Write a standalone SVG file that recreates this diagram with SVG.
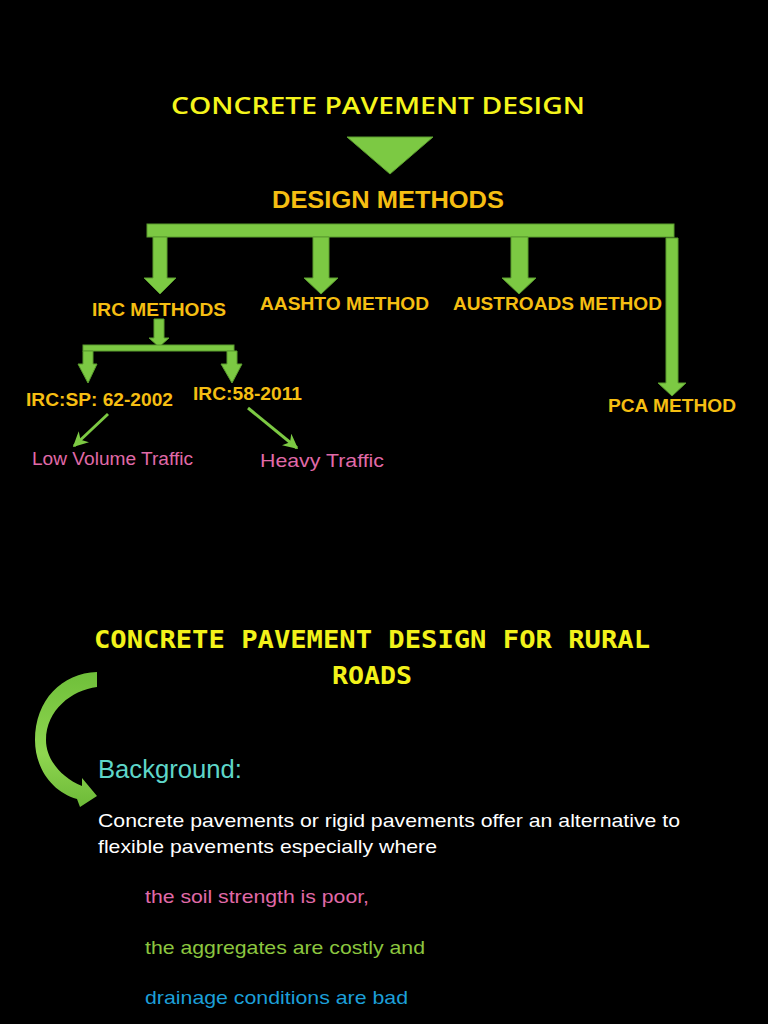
<svg xmlns="http://www.w3.org/2000/svg" width="768" height="1024" viewBox="0 0 768 1024">
<defs>
<style>
.bg{fill:#000}
.blk{fill:#7cc943;stroke:#5a9c2e;stroke-width:1}
.thin{stroke:#7cc943;stroke-width:3;fill:none}
.lbl{font-family:"Liberation Sans",Arial,sans-serif;font-weight:bold;fill:#f5be12}
.pink{font-family:"Liberation Sans",Arial,sans-serif;fill:#e06aa8}
.body{font-family:"Liberation Sans",Arial,sans-serif;font-size:19px}
.mono{font-family:"DejaVu Sans Mono","Liberation Mono",monospace;font-weight:bold;font-size:24px;fill:#f2f21a}
</style>
<marker id="ah" viewBox="0 0 10 10" refX="9" refY="5" markerWidth="5" markerHeight="5" orient="auto" markerUnits="strokeWidth">
<path d="M0,0 L10,5 L0,10 L3,5 Z" fill="#7cc943"/>
</marker>
<linearGradient id="cg" x1="0" y1="0" x2="0" y2="1">
<stop offset="0" stop-color="#6fbf3a"/>
<stop offset="0.6" stop-color="#8fd650"/>
<stop offset="1" stop-color="#6dba38"/>
</linearGradient>
</defs>
<rect class="bg" x="0" y="0" width="768" height="1024"/>

<g id="title">
<text x="171" y="114" font-family="'Open Sans','Liberation Sans',sans-serif" font-weight="600" font-size="24" fill="#f5f51c" textLength="414" lengthAdjust="spacingAndGlyphs">CONCRETE PAVEMENT DESIGN</text>
</g>
<g id="design-methods">
<text class="lbl" x="272" y="208" font-size="23" textLength="232" lengthAdjust="spacingAndGlyphs">DESIGN METHODS</text>
</g>
<g id="irc-methods"><text class="lbl" x="92" y="316" font-size="19" textLength="134" lengthAdjust="spacingAndGlyphs">IRC METHODS</text></g>
<g id="aashto"><text class="lbl" x="260" y="310" font-size="19" textLength="169" lengthAdjust="spacingAndGlyphs">AASHTO METHOD</text></g>
<g id="austroads"><text class="lbl" x="453" y="310" font-size="19" textLength="209" lengthAdjust="spacingAndGlyphs">AUSTROADS METHOD</text></g>
<g id="pca"><text class="lbl" x="608" y="412" font-size="19" textLength="128" lengthAdjust="spacingAndGlyphs">PCA METHOD</text></g>
<g id="irc-sp"><text class="lbl" x="26" y="406" font-size="19" textLength="147" lengthAdjust="spacingAndGlyphs">IRC:SP: 62-2002</text></g>
<g id="irc-58"><text class="lbl" x="193" y="400" font-size="19" textLength="109" lengthAdjust="spacingAndGlyphs">IRC:58-2011</text></g>
<g id="low-volume"><text class="pink" x="32" y="465" font-size="18" textLength="161" lengthAdjust="spacingAndGlyphs">Low Volume Traffic</text></g>
<g id="heavy"><text class="pink" x="260" y="467" font-size="19" textLength="124" lengthAdjust="spacingAndGlyphs">Heavy Traffic</text></g>

<g id="connectors">
<polygon class="blk" points="347,137 433,137 390,174"/>
<rect class="blk" x="147" y="224" width="527" height="13"/>
<polygon class="blk" points="153,237 167,237 167,278 176,278 160,294 144,278 153,278"/>
<polygon class="blk" points="313,237 329,237 329,278 338,278 321,294 304,278 313,278"/>
<polygon class="blk" points="511,237 528,237 528,278 536,278 519,294 502,278 511,278"/>
<polygon class="blk" points="666,238 678,238 678,383 686,383 672,396 658,383 666,383"/>
<polygon class="blk" points="154,319 164,319 164,338 169,338 159,347 149,338 154,338"/>
<rect class="blk" x="83" y="345" width="151" height="6"/>
<polygon class="blk" points="83,351 93,351 93,364 97,364 88,383 78,364 83,364"/>
<polygon class="blk" points="227,351 237,351 237,364 242,364 232,383 221,364 227,364"/>
<line class="thin" x1="108" y1="414" x2="74" y2="446" marker-end="url(#ah)"/>
<line class="thin" x1="248" y1="408" x2="297" y2="448" marker-end="url(#ah)"/>
<path fill="url(#cg)" d="M97,672 L97,687 C72,690 46,710 46,740 C46,760 62,778 82,786 L82,778 L97,796 L80,807 L77,799 C52,792 35,768 35,740 C35,700 62,673 97,672 Z"/>
</g>

<g id="rural-title">
<text class="mono" x="94" y="648" textLength="556" lengthAdjust="spacingAndGlyphs">CONCRETE PAVEMENT DESIGN FOR RURAL</text>
<text class="mono" x="332" y="684" textLength="80" lengthAdjust="spacingAndGlyphs">ROADS</text>
</g>
<g id="background">
<text x="98" y="778" font-family="'Liberation Sans',Arial,sans-serif" font-size="26" fill="#5ed6c9" textLength="144" lengthAdjust="spacingAndGlyphs">Background:</text>
<text class="body" x="98" y="827" fill="#ffffff" textLength="582" lengthAdjust="spacingAndGlyphs">Concrete pavements or rigid pavements offer an alternative to</text>
<text class="body" x="98" y="853" fill="#ffffff" textLength="339" lengthAdjust="spacingAndGlyphs">flexible pavements especially where</text>
<text class="body" x="145" y="903" fill="#e06aa8" textLength="224" lengthAdjust="spacingAndGlyphs">the soil strength is poor,</text>
<text class="body" x="145" y="954" fill="#8cc63f" textLength="280" lengthAdjust="spacingAndGlyphs">the aggregates are costly and</text>
<text class="body" x="145" y="1004" fill="#1c9fd8" textLength="263" lengthAdjust="spacingAndGlyphs">drainage conditions are bad</text>
</g>
</svg>
